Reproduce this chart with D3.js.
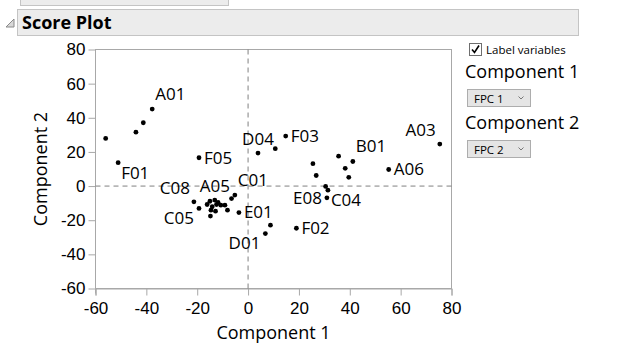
<!DOCTYPE html>
<html>
<head>
<meta charset="utf-8">
<script src="https://cdn.jsdelivr.net/npm/d3@7"></script>
<style>
  body { margin: 0; background: #fff; }
  svg { display: block; font-family: "Open Sans", "Noto Sans", sans-serif; }
</style>
</head>
<body>
<div id="chart"></div>
<script>
// score values
const comp1 = [-56.0, -44.1, -41.2, -37.7, -51.1, -19.3, 3.9, 10.7, 14.8, 25.5,
               26.8, 35.6, 41.2, 38.2, 39.6, 55.3, 75.4, 30.5, 31.4, 31.0,
               19.0, 8.8, 6.8, -3.6, -21.3, -19.3, -16.1, -15.0, -14.1, -13.1,
               -12.4, -14.6, -11.8, -10.7, -12.8, -9.1, -8.1, -6.5, -5.2, -14.8];
const comp2 = [27.9, 31.6, 37.1, 45.1, 13.7, 16.6, 19.3, 21.9, 29.3, 13.1,
               6.2, 17.5, 14.4, 10.4, 5.1, 9.7, 24.6, -0.2, -2.4, -6.9,
               -24.7, -22.9, -27.8, -15.5, -9.2, -13.1, -10.8, -8.9, -12.1, -8.2,
               -10.8, -14.1, -9.6, -11.2, -14.7, -11.2, -14.1, -7.3, -5.3, -17.6];
const pointLabels = ["", "", "", "A01", "F01", "F05", "D04", "", "F03", "",
                     "", "", "B01", "", "", "A06", "A03", "", "C04", "E08",
                     "F02", "", "D01", "E01", "C08", "C05", "", "", "", "A05",
                     "", "", "", "", "", "", "", "", "C01", ""];
// where each label sits relative to its point
const labelSide = {A01: "ne", F01: "se", F05: "e", D04: "n", F03: "e", C01: "ne",
                   C08: "nw", A05: "n", C05: "sw", E01: "e", D01: "sw", E08: "w",
                   C04: "se", F02: "e", B01: "ne", A06: "e", A03: "nw"};
const xTicks = [-60, -40, -20, 0, 20, 40, 60, 80];
const yTicks = [-60, -40, -20, 0, 20, 40, 60, 80];

const W = 633, H = 353;
const svg = d3.select("#chart").append("svg").attr("width", W).attr("height", H);

// --- outline header bits ---
svg.append("rect").attr("x", 20.5).attr("y", -3.5).attr("width", 208).attr("height", 9)
   .attr("fill", "#ececec").attr("stroke", "#c4c4c4");
svg.append("rect").attr("x", 17.5).attr("y", 9.5).attr("width", 561).attr("height", 26)
   .attr("fill", "#ececec").attr("stroke", "#c4c4c4");
svg.append("path").attr("d", "M6,27 L14,27 L14,19 Z").attr("fill", "#d8d8d8").attr("stroke", "#8a8a8a");
svg.append("text").attr("x", 22).attr("y", 28.5).text("Score Plot")
   .style("font-size", "18px").style("font-weight", "bold").style("fill", "#000");

// --- plot ---
const x = d3.scaleLinear().domain([-60, 80]).range([95.5, 451.5]);
const y = d3.scaleLinear().domain([-60, 80]).range([288.5, 49.5]);

const g = svg.append("g");
g.append("rect").attr("x", x(-60)).attr("y", y(80))
 .attr("width", x(80) - x(-60)).attr("height", y(-60) - y(80))
 .attr("fill", "none").attr("stroke", "#a8a8a8");

const xAxis = g.append("g").attr("transform", `translate(0,${y(-60)})`)
  .call(d3.axisBottom(x).tickValues(xTicks).tickSize(7).tickPadding(6).tickFormat(d3.format("d")));
const yAxis = g.append("g").attr("transform", `translate(${x(-60)},0)`)
  .call(d3.axisLeft(y).tickValues(yTicks).tickSize(7).tickPadding(3).tickFormat(d3.format("d")));
[xAxis, yAxis].forEach(a => {
  a.select(".domain").attr("stroke", "#a8a8a8");
  a.selectAll(".tick line").attr("stroke", "#a8a8a8");
  a.selectAll(".tick text").style("font-size", "17px").style("fill", "#000")
   .text(d => d < 0 ? "-" + Math.abs(d) : d);
});
yAxis.select(".domain").attr("d", `M0,${y(80)}V${y(-60) + 5}`);

// reference lines
g.append("line").attr("x1", x(0)).attr("x2", x(0)).attr("y1", y(80)).attr("y2", y(-60))
 .attr("stroke", "#808080").attr("stroke-dasharray", "5,4");
g.append("line").attr("x1", x(-60)).attr("x2", x(80)).attr("y1", y(0)).attr("y2", y(0))
 .attr("stroke", "#808080").attr("stroke-dasharray", "5,4");

const pts = comp1.map((v, i) => ({c1: v, c2: comp2[i], label: pointLabels[i]}));
g.selectAll("circle.pt").data(pts).join("circle").attr("class", "pt")
 .attr("cx", d => x(d.c1)).attr("cy", d => y(d.c2)).attr("r", 2.4).attr("fill", "#000");

const side = {
  e:  {dx: 5,  dy: 0,   anchor: "start"},
  w:  {dx: -5, dy: 0,   anchor: "end"},
  n:  {dx: 0,  dy: -14, anchor: "middle"},
  ne: {dx: 3,  dy: -15, anchor: "start"},
  nw: {dx: -4, dy: -14, anchor: "end"},
  se: {dx: 3,  dy: 10,  anchor: "start"},
  sw: {dx: -5, dy: 10,  anchor: "end"}
};
g.selectAll("text.lbl").data(pts.filter(d => d.label)).join("text").attr("class", "lbl")
 .attr("x", d => x(d.c1) + side[labelSide[d.label]].dx)
 .attr("y", d => y(d.c2) + side[labelSide[d.label]].dy)
 .attr("dy", "0.35em")
 .attr("text-anchor", d => side[labelSide[d.label]].anchor)
 .style("font-size", "17px").style("fill", "#000")
 .text(d => d.label);

// axis titles
svg.append("text").attr("x", x(10)).attr("y", 339).attr("text-anchor", "middle")
   .style("font-size", "18px").text("Component 1");
svg.append("text").attr("transform", `translate(47,${y(10)}) rotate(-90)`).attr("text-anchor", "middle")
   .style("font-size", "18px").text("Component 2");

// --- right panel controls ---
const panel = svg.append("g");
panel.append("rect").attr("x", 469.5).attr("y", 43.5).attr("width", 12).attr("height", 12)
     .attr("fill", "#fff").attr("stroke", "#6e6e6e");
panel.append("path").attr("d", "M472,49.5 L474.5,52.5 L479,45.5").attr("fill", "none")
     .attr("stroke", "#000").attr("stroke-width", 1.6);
panel.append("text").attr("x", 486).attr("y", 54).text("Label variables").style("font-size", "11.5px");

const pickers = ["Component 1", "Component 2"];
const pickValues = ["FPC 1", "FPC 2"];
pickers.forEach((t, i) => {
  const top = 60 + i * 51;
  panel.append("text").attr("x", 465).attr("y", top + 18).text(t).style("font-size", "18px");
  panel.append("rect").attr("x", 467.5).attr("y", top + 29.5).attr("width", 63).attr("height", 17)
       .attr("fill", "#e5e5e5").attr("stroke", "#adadad");
  panel.append("text").attr("x", 474).attr("y", top + 42.5).text(pickValues[i])
       .style("font-size", "11.5px");
  panel.append("path").attr("d", `M518.5,${top + 36.5} l2.5,2.5 l2.5,-2.5`).attr("fill", "none")
       .attr("stroke", "#777");
});
</script>
</body>
</html>
